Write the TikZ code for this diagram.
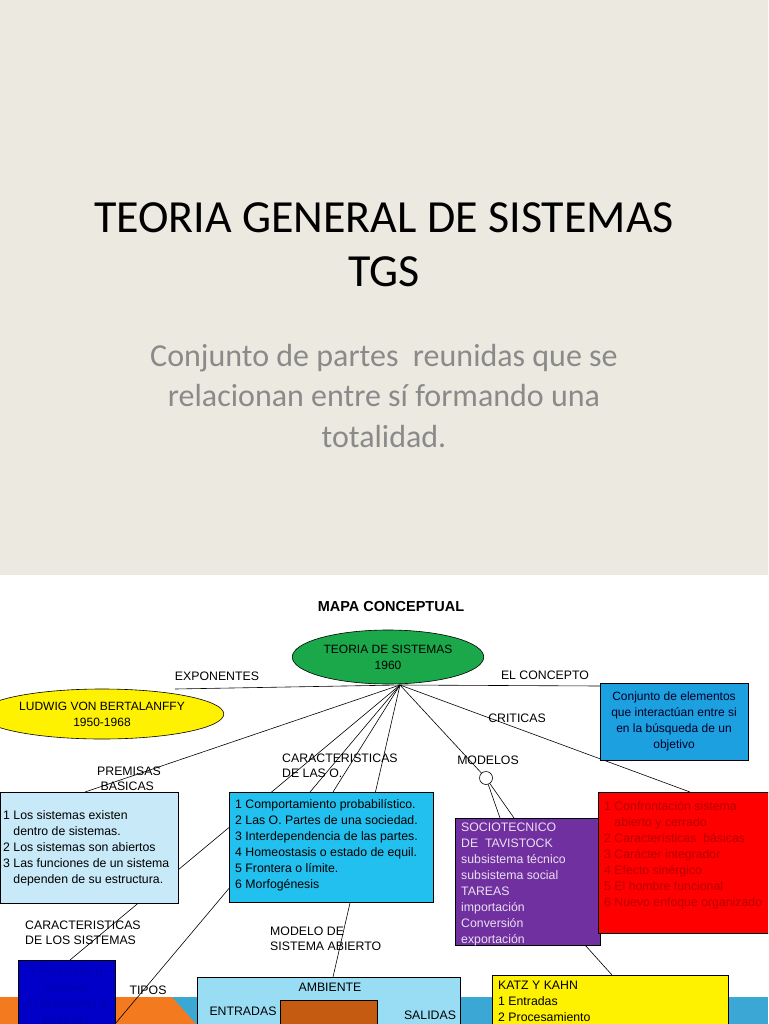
\documentclass[tikz,border=0pt]{standalone}
\usepackage{fontspec}
\setmainfont{Liberation Sans}
\newfontfamily\titlefont{Carlito}
\usetikzlibrary{shapes.geometric}
\definecolor{beige}{HTML}{ECE9E1}
\definecolor{subgray}{HTML}{8A8A8A}
\definecolor{gEll}{HTML}{1AA84A}
\definecolor{bConcept}{HTML}{1CA0E0}
\definecolor{lBox}{HTML}{C8EAF8}
\definecolor{cBox}{HTML}{22C0EE}
\definecolor{purp}{HTML}{7030A0}
\definecolor{dRed}{HTML}{B80000}
\definecolor{amb}{HTML}{99DDF5}
\definecolor{brn}{HTML}{C55A11}
\definecolor{dblue}{HTML}{0000C8}
\definecolor{band}{HTML}{3BA7D4}
\definecolor{orng}{HTML}{F47A20}
\tikzset{
 lbl/.style={font=\fontsize{12.3}{14.5}\selectfont,inner sep=0pt,align=center},
 box/.style={draw=black,line width=0.6pt,inner sep=0pt},
 txt/.style={font=\fontsize{12.3}{16}\selectfont,inner sep=0pt,align=left,anchor=north west},
 con/.style={draw=black,line width=0.6pt}
}
\begin{document}
\begin{tikzpicture}[x=1pt,y=-1pt]
\useasboundingbox (0,0) rectangle (768,1024);
\clip (0,0) rectangle (768,1024);
\fill[beige] (0,0) rectangle (768,575);
\fill[white] (0,575) rectangle (768,1024);
\node[font=\titlefont\fontsize{46}{54}\selectfont,align=center] (title) at (384,245) {TEORIA GENERAL DE SISTEMAS\\TGS};
\node[font=\titlefont\fontsize{32}{40.5}\selectfont,text=subgray,align=center] (sub) at (384,396) {Conjunto de partes\ \ reunidas que se\\relacionan entre sí formando una\\totalidad.};
% bottom band
\fill[band] (150,997) -- (768,997) -- (768,1024) -- (150,1024) -- cycle;
\fill[orng] (0,997) -- (172,997) -- (196,1024) -- (0,1024) -- cycle;
\node[font=\bfseries\fontsize{14.5}{16}\selectfont] (mapa) at (391,607) {MAPA CONCEPTUAL};
\coordinate (hub) at (400,685);
\coordinate (ex) at (175,689);
\coordinate (cc) at (600,686);
\coordinate (rt) at (690,792);
\coordinate (pb) at (85,792);
\coordinate (db) at (70,960);
\coordinate (tp) at (115,1024);
\coordinate (co) at (333,792);
\coordinate (am) at (333,977);
% connectors from hub
\draw[con] (hub) -- (ex);
\draw[con] (hub) -- (cc);
\draw[con] (hub) -- (rt);
\draw[con] (hub) -- (pb);
\draw[con] (hub) -- (db);
\draw[con] (hub) -- (tp);
\draw[con] (hub) -- (co);
\draw[con] (hub) -- (am);
\node[draw=black,circle,minimum size=13pt,inner sep=0pt,line width=0.6pt,fill=white] (circ) at (486,778) {};
\draw[con] (hub) -- (circ);
\coordinate (pl) at (500,818);
\coordinate (pr) at (514,818);
\draw[con] (circ) -- (pl);
\draw[con] (circ) -- (pr);
\coordinate (pbot) at (585,945);
\coordinate (ky) at (612,975);
\draw[con] (pbot) -- (ky);
% green ellipse
\node[ellipse,draw=black,fill=gEll,minimum width=176pt,minimum height=54pt,line width=0.6pt,font=\fontsize{12}{16}\selectfont,align=center] (teo) at (388,657) {TEORIA DE SISTEMAS\\1960};
\node[ellipse,draw=black,fill=yellow,minimum width=204pt,minimum height=50pt,line width=0.6pt,font=\fontsize{12}{16}\selectfont,align=center] (lud) at (102,714) {LUDWIG VON BERTALANFFY\\1950-1968};
% labels
\node[lbl] (l1) at (217,676) {EXPONENTES};
\node[lbl] (l2) at (545,675) {EL CONCEPTO};
\node[lbl] (l3) at (517,718) {CRITICAS};
\node[lbl,align=left,anchor=west] (l4) at (97,779) {PREMISAS\\\ BASICAS};
\node[lbl,align=left,anchor=west] (l5) at (282,766) {CARACTERISTICAS\\DE LAS O.};
\node[lbl] (l6) at (488,760) {MODELOS};
\node[lbl,align=left,anchor=west] (l7) at (25,933) {CARACTERISTICAS\\DE LOS SISTEMAS};
\node[lbl,align=left,anchor=west] (l8) at (270,939) {MODELO DE\\SISTEMA ABIERTO};
\node[lbl] (l9) at (148,990) {TIPOS};
% boxes
\draw[box,fill=bConcept] (600,683) rectangle (748,760);
\node[font=\fontsize{12}{16}\selectfont,align=center,text=black!85!blue] (ctxt) at (674,721) {Conjunto de elementos\\que interactúan entre si\\en la búsqueda de un\\objetivo};
\draw[box,fill=lBox] (0,792) rectangle (178,903);
\node[txt] (ptxt) at (3,810) {1 Los sistemas existen\\\ \ \ dentro de sistemas.\\2 Los sistemas son abiertos\\3 Las funciones de un sistema\\\ \ \ dependen de su estructura.};
\draw[box,fill=cBox] (229,792) rectangle (433,902);
\node[txt] (otxt) at (235,799) {1 Comportamiento probabilístico.\\2 Las O. Partes de una sociedad.\\3 Interdependencia de las partes.\\4 Homeostasis o estado de equil.\\5 Frontera o límite.\\6 Morfogénesis};
\draw[box,fill=purp] (455,818) rectangle (600,945);
\node[txt,text=white!85!purp] (stxt) at (461,823) {SOCIOTECNICO\\DE\ \ TAVISTOCK\\subsistema técnico\\subsistema social\\TAREAS\\importación\\Conversión\\exportación};
\draw[box,fill=red] (598,792) rectangle (775,933);
\node[txt,text=dRed] (rtxt) at (604,801) {1 Confrontación sistema\\\ \ \ abierto y cerrado\\2 Características\ \ básicas\\3 Carácter integrador\\4 Efecto sinérgico\\5 El hombre funcional\\6 Nuevo enfoque organizado};
\draw[box,fill=dblue] (18,960) rectangle (115,1030);
\node[txt,text=blue!70!black,align=center,anchor=north] (dtxt) at (66,966) {1 Propósito u\\objetivo\\2 Globalismo o\\totalidad};
\draw[box,fill=amb] (197,977) rectangle (460,1030);
\node[lbl] (a1) at (330,987) {AMBIENTE};
\node[lbl] (a2) at (243,1011) {ENTRADAS};
\node[lbl] (a3) at (430,1015) {SALIDAS};
\draw[box,fill=brn] (280,1000) rectangle (377,1030);
\draw[box,fill=yellow] (492,975) rectangle (728,1030);
\node[txt] (ktxt) at (498,981) {KATZ Y KAHN\\1 Entradas\\2 Procesamiento};
\end{tikzpicture}
\end{document}
